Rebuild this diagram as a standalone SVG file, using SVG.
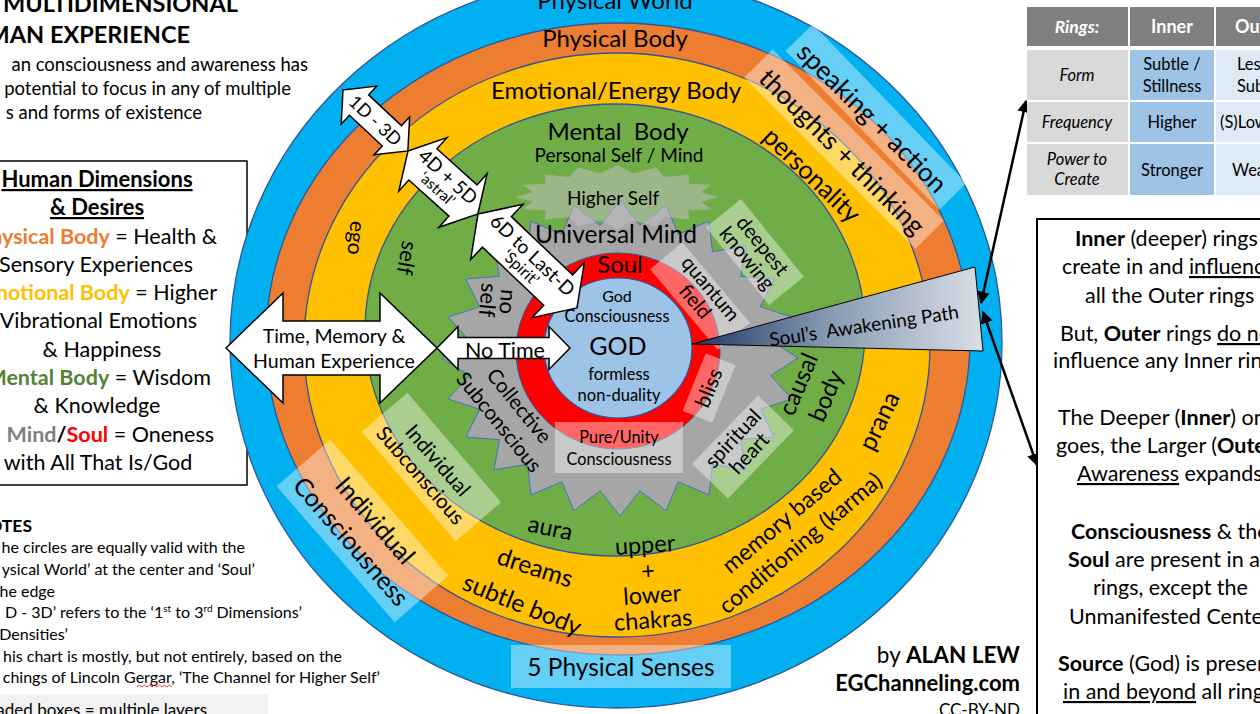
<svg xmlns="http://www.w3.org/2000/svg" width="1260" height="714" viewBox="0 0 1260 714">
<defs>
<style>
text{font-family:Lato,"Noto Sans","DejaVu Sans",sans-serif}
.ring{stroke:#2f5597;stroke-width:1.3}
.hl{fill:#fff;fill-opacity:.4}
.arr{fill:#fff;stroke:#000;stroke-width:1.5}
.c{text-anchor:middle}
.e{text-anchor:end}
.b{font-weight:bold}
.u{text-decoration:underline}
.i{font-style:italic}
.cell{stroke:none}
</style>
<linearGradient id="wedge" gradientUnits="userSpaceOnUse" x1="692" y1="0" x2="983" y2="0">
<stop offset="0" stop-color="#1f3864"/>
<stop offset="0.45" stop-color="#8497b0"/>
<stop offset="1" stop-color="#d9dee6"/>
</linearGradient>
<marker id="ah" viewBox="0 0 10 10" refX="9" refY="5" markerWidth="5" markerHeight="5" orient="auto-start-reverse">
<path d="M0,0 L10,5 L0,10 Z" fill="#000"/>
</marker>
</defs>
<rect width="1260" height="714" fill="#fff"/>

<g id="title">
<text x="238" y="12" class="e b" font-size="23.5">MULTIDIMENSIONAL</text>
<text x="190" y="43" class="e b" font-size="23.5">MAN EXPERIENCE</text>
<text x="308" y="71" class="e" font-size="18.5">an consciousness and awareness has</text>
<text x="291" y="95" class="e" font-size="18.5">potential to focus in any of multiple</text>
<text x="202" y="119" class="e" font-size="18.5">s and forms of existence</text>
</g>

<g id="dimensions-box">
<rect x="-2" y="161" width="249" height="324" fill="#fff" stroke="#000" stroke-width="1.5"/>
<text x="97" y="187" class="c b u" font-size="22">Human Dimensions</text>
<text x="97" y="215" class="c b u" font-size="22">&amp; Desires</text>
<text x="217" y="244" class="e" font-size="21.5"><tspan class="b" fill="#ed7d31">Physical Body</tspan> = Health &amp;</text>
<text x="193" y="272" class="e" font-size="21.5">Sensory Experiences</text>
<text x="217" y="300" class="e" font-size="21.5"><tspan class="b" fill="#ffc000">Emotional Body</tspan> = Higher</text>
<text x="197" y="328" class="e" font-size="21.5">Vibrational Emotions</text>
<text x="102" y="357" class="c" font-size="21.5">&amp; Happiness</text>
<text x="211" y="385" class="e" font-size="21.5"><tspan class="b" fill="#548235">Mental Body</tspan> = Wisdom</text>
<text x="97" y="413" class="c" font-size="21.5">&amp; Knowledge</text>
<text x="214" y="442" class="e" font-size="21.5"><tspan class="b" fill="#7f7f7f">Mind</tspan><tspan class="b">/</tspan><tspan class="b" fill="#ff0000">Soul</tspan> = Oneness</text>
<text x="98" y="470" class="c" font-size="21.5">with All That Is/God</text>
</g>

<g id="notes">
<text x="32" y="532" class="e b" font-size="17.5">OTES</text>
<text x="245" y="553" class="e" font-size="16">he circles are equally valid with the</text>
<text x="255" y="575" class="e" font-size="16">ysical World’ at the center and ‘Soul’</text>
<text x="55" y="597" class="e" font-size="16">he edge</text>
<text x="302" y="618" class="e" font-size="16">D - 3D’ refers to the ‘1<tspan font-size="10" dy="-6">st</tspan><tspan dy="6"> to 3</tspan><tspan font-size="10" dy="-6">rd</tspan><tspan dy="6"> Dimensions’</tspan></text>
<text x="68" y="640" class="e" font-size="16">Densities’</text>
<text x="342" y="662" class="e" font-size="16">his chart is mostly, but not entirely, based on the</text>
<text x="380" y="683" class="e" font-size="16">chings of Lincoln Gergar, ‘The Channel for Higher Self’</text>
<polyline points="137,687 139.5,685 142,687 144.5,685 147,687 149.5,685 152,687 154.5,685 157,687 159.5,685 162,687 164.5,685 167,687 169.5,685 172,687" fill="none" stroke="#e00" stroke-width="0.8"/>
<rect x="0" y="694" width="268" height="22" fill="#f2f2f2"/>
<text x="207" y="716" class="e" font-size="17">haded boxes = multiple layers</text>
</g>

<g id="rings">
<ellipse cx="616" cy="342" rx="386" ry="366" fill="#00b0f0" class="ring"/>
<ellipse cx="618" cy="339" rx="352" ry="316" fill="#ed7d31" class="ring"/>
<ellipse cx="617" cy="345" rx="313" ry="292" fill="#ffc000" class="ring"/>
<ellipse cx="615" cy="330" rx="250" ry="226" fill="#70ad47" class="ring"/>
</g>

<g id="universal-mind">
<polygon fill="#a6a6a6" stroke="#4472c4" stroke-width="1" points="798,358 770.7,375.5 791.9,398.9 760.4,409.3 774.1,437 740.6,439.6 745.9,469.7 712.5,464.3 709,494.8 678.2,481.8 666.1,510.6 639.8,490.8 620,516 600.2,490.8 573.9,510.6 561.8,481.8 531,494.8 527.5,464.3 494.1,469.7 499.4,439.6 465.9,437 479.6,409.3 448.1,398.9 469.3,375.5 442,358 469.3,340.5 448.1,317.1 479.6,306.7 465.9,279 499.4,276.4 494.1,246.3 527.5,251.7 531,221.2 561.8,234.2 573.9,205.4 600.2,225.2 620,200 639.8,225.2 666.1,205.4 678.2,234.2 709,221.2 712.5,251.7 745.9,246.3 740.6,276.4 774.1,279 760.4,306.7 791.9,317.1 770.7,340.5"/>
</g>
<g id="higher-self">
<polygon fill="#c0c0c0" fill-opacity="0.55" stroke="none" points="719,197 701.3,201.7 711.2,209.2 688.5,210.3 689.1,219.6 664.8,217 656,226.6 633.8,220.5 617,229 600.2,220.5 578,226.6 569.2,217 544.9,219.6 545.5,210.3 522.8,209.2 532.7,201.7 515,197 532.7,192.3 522.8,184.8 545.5,183.7 544.9,174.4 569.2,177 578,167.4 600.2,173.5 617,165 633.8,173.5 656,167.4 664.8,177 689.1,174.4 688.5,183.7 711.2,184.8 701.3,192.3"/>
<text x="613" y="205" class="c" font-size="19">Higher Self</text>
</g>
<g id="soul">
<ellipse cx="618" cy="351" rx="102" ry="98" fill="#ff0000" stroke="#2f5597" stroke-width="1"/>
</g>
<g id="god">
<ellipse cx="618" cy="348" rx="74" ry="70" fill="#9dc3e6" stroke="#2f5597" stroke-width="1.2"/>
</g>

<g id="shaded-boxes">
<rect class="hl" x="-110.5" y="-19" width="221" height="38" transform="translate(876,117) rotate(46)"/>
<rect class="hl" x="-121" y="-20" width="242" height="40" transform="translate(844,149) rotate(45)"/>
<rect class="hl" x="-50" y="-22.5" width="100" height="45" transform="translate(755,252) rotate(51)"/>
<rect class="hl" x="-52.5" y="-21" width="105" height="42" transform="translate(700,296) rotate(50)"/>
<rect class="hl" x="-31" y="-16" width="62" height="32" transform="translate(709,388) rotate(-68)"/>
<rect class="hl" x="555" y="422" width="128" height="51"/>
<rect class="hl" x="-47.5" y="-25" width="95" height="50" transform="translate(743,447) rotate(-46)"/>
<rect class="hl" x="-72" y="-30" width="144" height="60" transform="translate(431.5,467) rotate(49.4)"/>
<rect class="hl" x="-90" y="-35.5" width="180" height="71" transform="translate(362.5,531) rotate(49)"/>
<rect class="hl" x="511" y="645" width="220" height="43"/>
</g>

<g id="ring-labels">
<text x="615" y="9" class="c" font-size="24">Physical World</text>
<text x="615" y="47" class="c" font-size="24">Physical Body</text>
<text x="616" y="99" class="c" font-size="24">Emotional/Energy Body</text>
<text x="618" y="140" class="c" font-size="24" xml:space="preserve">Mental  Body</text>
<text x="619" y="162" class="c" font-size="19">Personal Self / Mind</text>
<text x="616" y="243" class="c" font-size="24.5">Universal Mind</text>
<text x="620" y="273" class="c" font-size="24">Soul</text>
<text x="617" y="302" class="c" font-size="16">God</text>
<text x="617" y="322" class="c" font-size="16.3">Consciousness</text>
<text x="618" y="355" class="c" font-size="25">GOD</text>
<text x="619" y="380" class="c" font-size="16.5">formless</text>
<text x="619" y="401" class="c" font-size="16.5">non-duality</text>
<text x="619" y="443" class="c" font-size="16.3">Pure/Unity</text>
<text x="619" y="465" class="c" font-size="16.3">Consciousness</text>
<text x="621" y="676" class="c" font-size="24.5">5 Physical Senses</text>
<text transform="translate(872,118) rotate(45)" y="9" class="c" font-size="26">speaking + action</text>
<text transform="translate(842,152) rotate(45)" y="9" class="c" font-size="26">thoughts + thinking</text>
<text transform="translate(812,175) rotate(44)" y="9" class="c" font-size="25.5">personality</text>
<text transform="translate(356,238) rotate(95)" y="7" class="c" font-size="21">ego</text>
<text transform="translate(407,258) rotate(100)" y="7.5" class="c" font-size="22">self</text>
<g transform="translate(498,301) rotate(95)" font-size="22"><text y="-2.3" class="c">no</text><text y="17.7" class="c">self</text></g>
<g transform="translate(509,414) rotate(51)" font-size="20.5"><text y="-6" class="c">Collective</text><text y="20" class="c">Subconscious</text></g>
<g transform="translate(429,468) rotate(49)" font-size="20.5"><text y="-4.5" class="c">Individual</text><text y="18.5" class="c">Subconscious</text></g>
<g transform="translate(363,531) rotate(49)" font-size="25"><text y="-7.3" class="c">Individual</text><text y="24.7" class="c">Consciousness</text></g>
<g transform="translate(755,252) rotate(51)" font-size="20"><text y="-3" class="c">deepest</text><text y="17" class="c">knowing</text></g>
<g transform="translate(703,295) rotate(50)" font-size="20"><text y="-3" class="c">quantum</text><text y="17" class="c">field</text></g>
<text transform="translate(709,388) rotate(-68)" y="7" class="c" font-size="21">bliss</text>
<g transform="translate(741,446) rotate(-47)" font-size="20.5"><text y="-4" class="c">spiritual</text><text y="18" class="c">heart</text></g>
<g transform="translate(812,390) rotate(-67)" font-size="24"><text y="-6.6" class="c">causal</text><text y="23.4" class="c">body</text></g>
<text transform="translate(879,421) rotate(-64)" y="8.7" class="c" font-size="25">prana</text>
<g transform="translate(791,532) rotate(-40)" font-size="23"><text y="-6.5" class="c">memory based</text><text y="22.5" class="c">conditioning (karma)</text></g>
<g font-size="23.5">
<text x="645" y="553" class="c" transform="rotate(-4 645 545)">upper</text>
<text x="648" y="579" class="c" transform="rotate(-4 648 571)">+</text>
<text x="652" y="603" class="c" transform="rotate(-4 652 595)">lower</text>
<text x="653" y="628" class="c" transform="rotate(-4 653 620)">chakras</text>
</g>
<text transform="translate(550,530) rotate(12)" y="6" class="c" font-size="23.5">aura</text>
<text transform="translate(535,568) rotate(18)" y="8" class="c" font-size="24.5">dreams</text>
<text transform="translate(522,605) rotate(22)" y="8" class="c" font-size="24.5">subtle body</text>
</g>

<g id="souls-awakening-path">
<path d="M692,344 L975,267 L983,351 Z" fill="url(#wedge)" stroke="#000" stroke-width="1"/>
<text transform="translate(864,326) rotate(-8.5)" y="6.5" class="c" font-size="19" xml:space="preserve">Soul’s  Awakening Path</text>
</g>

<g id="connectors">
<g id="arrow-1d-3d" transform="translate(343,90) rotate(43.2)">
<path class="arr" d="M0,0 L22,-26 L22,-14 L67,-14 L67,-26 L89,0 L67,26 L67,14 L22,14 L22,26 Z"/>
<text x="44.5" y="6.5" class="c" font-size="18">1D - 3D</text>
</g>
<g id="arrow-4d-5d" transform="translate(408,151) rotate(42)">
<path class="arr" d="M0,0 L20,-36 L20,-21 L74,-21 L74,-36 L94,0 L74,36 L74,21 L20,21 L20,36 Z"/>
<text x="47" y="-1" class="c" font-size="19">4D + 5D</text>
<text x="47" y="14" class="c" font-size="15">‘astral’</text>
</g>
<g id="arrow-6d" transform="translate(478,214) rotate(43.5)">
<path class="arr" d="M0,0 L26,-38 L26,-21 L110.5,-21 L110.5,-38 L136.5,0 L110.5,38 L110.5,21 L26,21 L26,38 Z"/>
<text x="68" y="-1" class="c" font-size="19">6D to Last-D</text>
<text x="68" y="15" class="c" font-size="16">‘Spirit’</text>
</g>
<g id="arrow-time">
<path class="arr" d="M226,348 L283,293 L283,321 L380,321 L380,293 L437,348 L380,403 L380,375 L283,375 L283,403 Z"/>
<text x="334" y="343" class="c" font-size="19.5">Time, Memory &amp;</text>
<text x="334" y="368" class="c" font-size="19.5">Human Experience</text>
</g>
<g id="arrow-no-time">
<path class="arr" d="M437,348 L458,326.5 L458,337.5 L549,337.5 L549,326.5 L570,348 L549,369.5 L549,358.5 L458,358.5 L458,369.5 Z"/>
<text x="505" y="358" class="c" font-size="21.5">No Time</text>
</g>
<line x1="981" y1="303" x2="1026" y2="101" stroke="#000" stroke-width="2.5" marker-start="url(#ah)" marker-end="url(#ah)"/>
<line x1="983" y1="312" x2="1037" y2="465" stroke="#000" stroke-width="2.5" marker-start="url(#ah)" marker-end="url(#ah)"/>
</g>

<g id="table" font-size="16.5">
<rect class="cell" x="1027" y="7" width="101" height="39" fill="#7f7f7f"/>
<rect class="cell" x="1130" y="7" width="84" height="39" fill="#7f7f7f"/>
<rect class="cell" x="1216" y="7" width="60" height="39" fill="#7f7f7f"/>
<rect class="cell" x="1027" y="50" width="101" height="50" fill="#d9d9d9"/>
<rect class="cell" x="1130" y="50" width="84" height="50" fill="#9dc3e6"/>
<rect class="cell" x="1216" y="50" width="60" height="50" fill="#deebf7"/>
<rect class="cell" x="1027" y="102" width="101" height="40" fill="#d9d9d9"/>
<rect class="cell" x="1130" y="102" width="84" height="40" fill="#9dc3e6"/>
<rect class="cell" x="1216" y="102" width="60" height="40" fill="#deebf7"/>
<rect class="cell" x="1027" y="144" width="101" height="51" fill="#d9d9d9"/>
<rect class="cell" x="1130" y="144" width="84" height="51" fill="#9dc3e6"/>
<rect class="cell" x="1216" y="144" width="60" height="51" fill="#deebf7"/>
<text x="1077" y="33" class="c b i" fill="#fff" font-size="17.5">Rings:</text>
<text x="1172" y="33" class="c b" fill="#fff" font-size="18">Inner</text>
<text x="1235" y="33" class="b" fill="#fff" font-size="18">Outer</text>
<text x="1077" y="81" class="c i">Form</text>
<text x="1172" y="70" class="c">Subtle /</text>
<text x="1172" y="92" class="c">Stillness</text>
<text x="1237" y="70">Less</text>
<text x="1237" y="92">Subtle</text>
<text x="1077" y="128" class="c i">Frequency</text>
<text x="1172" y="128" class="c">Higher</text>
<text x="1220" y="128">(S)Lower</text>
<text x="1077" y="165" class="c i">Power to</text>
<text x="1077" y="185" class="c i">Create</text>
<text x="1172" y="176" class="c">Stronger</text>
<text x="1232" y="176">Weaker</text>
</g>

<g id="influence-box" font-size="21.5">
<rect x="1037" y="219" width="250" height="520" fill="#fff" stroke="#000" stroke-width="2"/>
<text x="1075" y="246"><tspan class="b">Inner</tspan> (deeper) rings</text>
<text x="1062" y="274">create in and <tspan class="u">influence</tspan></text>
<text x="1085" y="303">all the Outer rings</text>
<text x="1060" y="341">But, <tspan class="b">Outer</tspan> rings <tspan class="u">do not</tspan></text>
<text x="1053" y="368">influence any Inner rings</text>
<text x="1058" y="425">The Deeper (<tspan class="b">Inner</tspan>) one</text>
<text x="1056" y="453">goes, the Larger (<tspan class="b">Outer</tspan>)</text>
<text x="1077" y="481"><tspan class="u">Awareness</tspan> expands</text>
<text x="1071" y="539"><tspan class="b">Consciousness</tspan> &amp; the</text>
<text x="1068" y="567"><tspan class="b">Soul</tspan> are present in all</text>
<text x="1093" y="595">rings, except the</text>
<text x="1069" y="624">Unmanifested Center</text>
<text x="1058" y="671"><tspan class="b">Source</tspan> (God) is present</text>
<text x="1063" y="699"><tspan class="u">in and beyond</tspan> all rings</text>
</g>

<g id="credit">
<text x="1020" y="663" class="e" font-size="22.5">by <tspan class="b">ALAN LEW</tspan></text>
<text x="1020" y="691" class="e b" font-size="22">EGChanneling.com</text>
<text x="1020" y="716" class="e" font-size="17">CC-BY-ND</text>
</g>
</svg>
